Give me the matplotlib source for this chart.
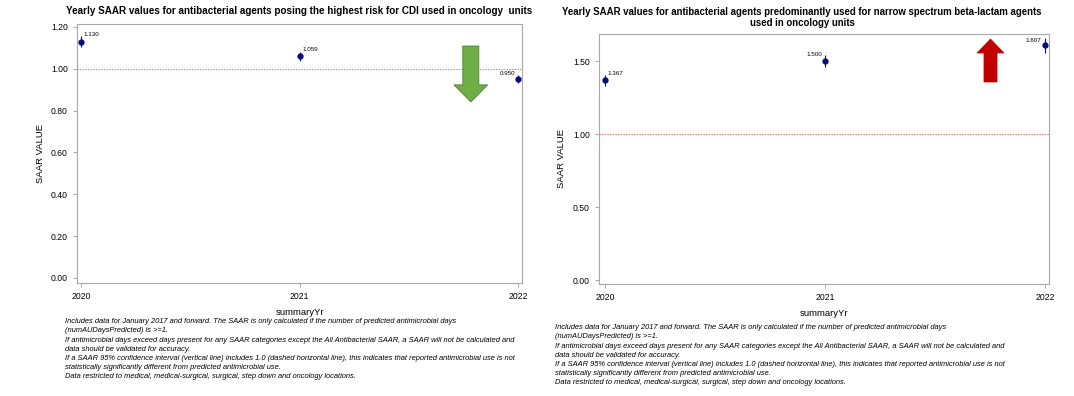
import numpy as np
import matplotlib.pyplot as plt
import matplotlib.patches as mpatches

plt.rcParams['font.family'] = ['Liberation Sans', 'DejaVu Sans']

# data
years = [2020, 2021, 2022]
saar_cdi = [1.130, 1.059, 0.950]
ci_lo_cdi = [1.102, 1.037, 0.930]
ci_hi_cdi = [1.158, 1.081, 0.970]
saar_nsbl = [1.367, 1.500, 1.607]
ci_lo_nsbl = [1.331, 1.462, 1.558]
ci_hi_nsbl = [1.403, 1.538, 1.656]

title_left = 'Yearly SAAR values for antibacterial agents posing the highest risk for CDI used in oncology  units'
title_right = ('Yearly SAAR values for antibacterial agents predominantly used for narrow spectrum beta-lactam agents\n'
               'used in oncology units')
notes = ("Includes data for January 2017 and forward. The SAAR is only calculated if the number of predicted antimicrobial days\n"
         "(numAUDaysPredicted) is >=1.\n"
         "If antimicrobial days exceed days present for any SAAR categories except the All Antibacterial SAAR, a SAAR will not be calculated and\n"
         "data should be validated for accuracy.\n"
         "If a SAAR 95% confidence interval (vertical line) includes 1.0 (dashed horizontal line), this indicates that reported antimicrobial use is not\n"
         "statistically significantly different from predicted antimicrobial use.\n"
         "Data restricted to medical, medical-surgical, surgical, step down and oncology locations.")

W, H = 1074, 396
fig = plt.figure(figsize=(W / 100, H / 100), dpi=100)


def px_axes(x0, x1, top, bottom):
    return fig.add_axes([x0 / W, (H - bottom) / H, (x1 - x0) / W, (bottom - top) / H])


def style(ax):
    for s in ax.spines.values():
        s.set_color('#a8a8a8')
        s.set_linewidth(0.8)
    ax.tick_params(colors='#a8a8a8', labelcolor='black', labelsize=6.2, length=3, width=0.7)
    ax.set_xticks(years)
    ax.set_xticklabels([str(y) for y in years])
    ax.set_xlabel('summaryYr', fontsize=6.8, labelpad=5)
    ax.axhline(1.0, color='#f07070', lw=0.8, ls=(0, (1.2, 1.2)), zorder=1)


def draw(ax, vals, lo, hi, offsets):
    v = np.array(vals)
    err = [v - np.array(lo), np.array(hi) - v]
    ax.errorbar(years, v, yerr=err, fmt='o', color='#0a0a80', ms=3.5, elinewidth=0.8,
                capsize=0, zorder=3)
    for x, y, off in zip(years, vals, offsets):
        ax.annotate(f'{y:.3f}', (x, y), xytext=off, textcoords='offset points',
                    fontsize=4.5, ha='left' if off[0] > 0 else 'right', va='bottom')


# left panel
ax1 = px_axes(77, 522, 24, 283)
style(ax1)
ax1.set_xlim(2019.982, 2022.018)
ax1.set_ylim(-0.024, 1.214)
ax1.set_yticks([0, 0.2, 0.4, 0.6, 0.8, 1.0, 1.2])
ax1.set_yticklabels([f'{t:.2f}' for t in ax1.get_yticks()])
ax1.set_ylabel('SAAR VALUE', fontsize=6.8, labelpad=4)
draw(ax1, saar_cdi, ci_lo_cdi, ci_hi_cdi, [(2, 3), (2, 3), (-2, 2)])
ax1.set_title(title_left, fontsize=7.1, fontweight='bold', pad=7)
ax1.add_patch(mpatches.FancyArrow(0.885, 0.915, 0, -0.216 + 0.066, width=0.036,
                                  head_width=0.076, head_length=0.066,
                                  length_includes_head=False, transform=ax1.transAxes,
                                  facecolor='#70AD47', edgecolor='#507E32', lw=0.6,
                                  zorder=4))

# right panel
ax2 = px_axes(599, 1049, 34, 284)
style(ax2)
ax2.set_xlim(2019.973, 2022.018)
ax2.set_ylim(-0.027, 1.685)
ax2.set_yticks([0, 0.5, 1.0, 1.5])
ax2.set_yticklabels([f'{t:.2f}' for t in ax2.get_yticks()])
ax2.set_ylabel('SAAR VALUE', fontsize=6.8, labelpad=5)
draw(ax2, saar_nsbl, ci_lo_nsbl, ci_hi_nsbl, [(2, 3), (-2, 3), (-3, 2)])
ax2.set_title(title_right, fontsize=6.9, fontweight='bold', pad=6, linespacing=1.1, x=0.451)
ax2.add_patch(mpatches.FancyArrow(0.870, 0.808, 0, 0.172 - 0.056, width=0.029,
                                  head_width=0.06, head_length=0.056,
                                  length_includes_head=False, transform=ax2.transAxes,
                                  facecolor='#C00000', edgecolor='#C00000', lw=0.5,
                                  zorder=4))

# footnotes
fig.text(65 / W, 1 - 318 / H, notes, fontsize=5.45, style='italic', va='top', ha='left',
         linespacing=1.45)
fig.text(555 / W, 1 - 324 / H, notes, fontsize=5.45, style='italic', va='top', ha='left',
         linespacing=1.45)

fig.savefig('out.png', dpi=100)
